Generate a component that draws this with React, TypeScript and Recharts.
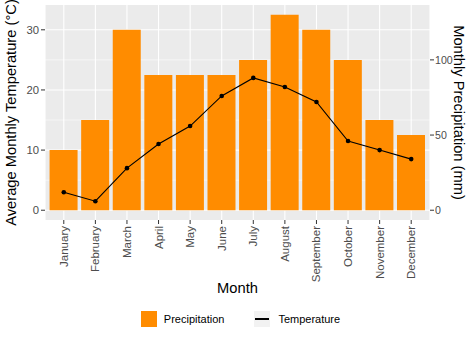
import { ComposedChart, Bar, Line, XAxis, YAxis, CartesianGrid, Legend, Label } from 'recharts';

const months = [
  'January', 'February', 'March', 'April', 'May', 'June',
  'July', 'August', 'September', 'October', 'November', 'December',
];
// mm, drawn against the right axis
const precipitation = [40, 60, 120, 90, 90, 90, 100, 130, 120, 100, 60, 50];
// °C, drawn against the left axis
const temperature = [3, 1.5, 7, 11, 14, 19, 22, 20.5, 18, 11.5, 10, 8.5];

const tempTicks = [0, 10, 20, 30];
const tempMinor = [5, 15, 25];
const precipTicks = [0, 50, 100];

const data = months.map((month, i) => ({
  month,
  Precipitation: precipitation[i],
  Temperature: temperature[i],
}));

const FONT = '"Liberation Sans", Arial, sans-serif';
const ORANGE = '#FF8C00';
const TICK_GREY = '#4D4D4D';

const MonthTick = ({ x, y, payload }: any) => (
  <text
    x={x}
    y={y}
    transform={`rotate(-90, ${x}, ${y})`}
    textAnchor="end"
    dominantBaseline="central"
    fill={TICK_GREY}
    fontSize={11.5}
    fontFamily={FONT}
  >
    {payload.value}
  </text>
);

const renderLegend = () => (
  <div
    style={{
      height: 38,
      display: 'flex',
      alignItems: 'center',
      justifyContent: 'center',
      paddingLeft: 7,
      fontFamily: FONT,
      fontSize: 11,
      color: '#000',
    }}
  >
    <div style={{ display: 'flex', alignItems: 'center', marginRight: 30 }}>
      <div style={{ width: 16, height: 16, background: ORANGE, marginRight: 7 }} />
      <span>Precipitation</span>
    </div>
    <div style={{ display: 'flex', alignItems: 'center' }}>
      <div
        style={{
          width: 16,
          height: 16,
          background: '#F2F2F2',
          marginRight: 8,
          display: 'flex',
          alignItems: 'center',
          justifyContent: 'center',
        }}
      >
        <div style={{ width: 14, height: 1.2, background: '#000' }} />
      </div>
      <span>Temperature</span>
    </div>
  </div>
);

export default function App() {
  return (
    <div style={{ position: 'absolute', left: 0, top: 0 }}>
      <ComposedChart
        width={474}
        height={338}
        data={data}
        margin={{ top: 5, right: 0, bottom: 0, left: 0 }}
        barCategoryGap="5%"
      >
        <CartesianGrid
          yAxisId="temp"
          fill="#EBEBEB"
          stroke="#FFFFFF"
          strokeWidth={0.55}
          vertical={false}
          horizontalValues={tempMinor}
        />
        <CartesianGrid
          yAxisId="temp"
          stroke="#FFFFFF"
          strokeWidth={1.1}
          horizontalValues={tempTicks}
        />
        <XAxis
          dataKey="month"
          height={80}
          padding={{ left: 3, right: 3 }}
          axisLine={false}
          tickLine={{ stroke: '#333333' }}
          tickSize={4}
          tickMargin={2}
          interval={0}
          tick={<MonthTick />}
        >
          <Label
            content={(props: any) => {
              const vb = props.viewBox;
              return (
                <text
                  x={vb.x + vb.width / 2}
                  y={vb.y + 68}
                  textAnchor="middle"
                  dominantBaseline="central"
                  fontSize={14.7}
                  fontFamily={FONT}
                  fill="#000"
                >
                  Month
                </text>
              );
            }}
          />
        </XAxis>
        <YAxis
          yAxisId="temp"
          orientation="left"
          width={45}
          type="number"
          domain={[-1.625, 34.125]}
          ticks={tempTicks}
          axisLine={false}
          tickLine={{ stroke: '#333333' }}
          tickSize={4}
          tickMargin={2}
          tick={{ fill: TICK_GREY, fontSize: 11.3, fontFamily: FONT }}
        >
          <Label
            content={(props: any) => {
              const vb = props.viewBox;
              const cx = 11;
              const cy = vb.y + vb.height / 2;
              return (
                <text
                  x={cx}
                  y={cy}
                  transform={`rotate(-90, ${cx}, ${cy})`}
                  textAnchor="middle"
                  dominantBaseline="central"
                  fontSize={14.7}
                  fontFamily={FONT}
                  fill="#000"
                >
                  Average Monthly Temperature (°C)
                </text>
              );
            }}
          />
        </YAxis>
        <YAxis
          yAxisId="precip"
          orientation="right"
          width={44}
          type="number"
          domain={[-6.5, 136.5]}
          ticks={precipTicks}
          axisLine={false}
          tickLine={{ stroke: '#333333' }}
          tickSize={4}
          tickMargin={1}
          tick={{ fill: TICK_GREY, fontSize: 10.6, fontFamily: FONT }}
        >
          <Label
            content={(props: any) => {
              const vb = props.viewBox;
              const cx = 459;
              const cy = vb.y + vb.height / 2;
              return (
                <text
                  x={cx}
                  y={cy}
                  transform={`rotate(90, ${cx}, ${cy})`}
                  textAnchor="middle"
                  dominantBaseline="central"
                  fontSize={14.7}
                  fontFamily={FONT}
                  fill="#000"
                >
                  Monthly Precipitation (mm)
                </text>
              );
            }}
          />
        </YAxis>
        <Legend verticalAlign="bottom" content={renderLegend} />
        <Bar
          yAxisId="precip"
          dataKey="Precipitation"
          fill={ORANGE}
          isAnimationActive={false}
        />
        <Line
          yAxisId="temp"
          dataKey="Temperature"
          type="linear"
          stroke="#000000"
          strokeWidth={1.1}
          dot={{ r: 2.3, fill: '#000000', stroke: '#000000', strokeWidth: 0 }}
          activeDot={false}
          isAnimationActive={false}
        />
      </ComposedChart>
    </div>
  );
}
